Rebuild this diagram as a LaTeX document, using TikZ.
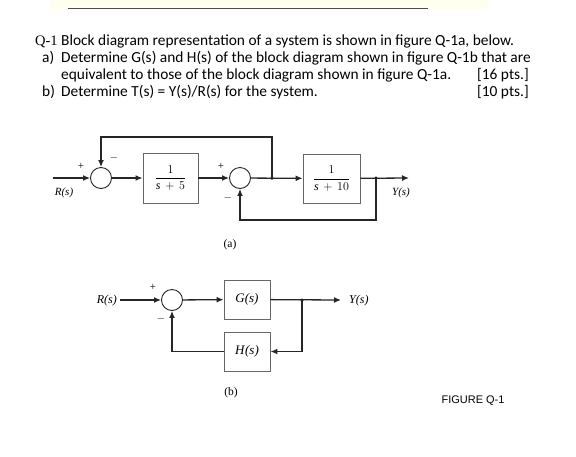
\documentclass[tikz,border=0pt]{standalone}
\usepackage{fontspec}
\setmainfont{Carlito}
\newfontfamily\tm{Liberation Serif}
\newfontfamily\ar{Liberation Sans}
\usetikzlibrary{arrows.meta}
\begin{document}
\begin{tikzpicture}[x=1pt,y=-1pt,
  wire/.style={line width=1.3pt,draw=black!85},
  arr/.style={wire,-{Latex[length=7pt,width=6pt]}},
  blk/.style={draw=black!60,line width=0.9pt,minimum width=#1,inner sep=0pt},
  sumc/.style={circle,draw=black!85,line width=0.9pt,minimum size=21pt,inner sep=0pt},
  sig/.style={font=\tm\fontsize{11}{11}\selectfont,inner sep=0pt},
  lab/.style={font=\tm\itshape\fontsize{11}{12}\selectfont,inner sep=0pt},
  labb/.style={font=\tm\itshape\fontsize{12}{13}\selectfont,inner sep=0pt},
  figcap/.style={font=\tm\fontsize{11.5}{12}\selectfont,inner sep=0pt},
  txt/.style={anchor=base west,inner sep=0pt,font=\fontsize{15.4}{17}\selectfont},
  dot/.style={circle,fill=black,inner sep=0pt,minimum size=3.5pt}]
\useasboundingbox (0,0) rectangle (576,456);
\fill[fill={rgb,255:red,255;green,255;blue,240}] (50,0) rectangle (488,9);
\draw[line width=0.5pt,black!70] (68,8) -- (428,8);
% text
\node[txt,font=\tm\fontsize{14.5}{15}\selectfont] (q1) at (35,45) {Q-1};
\node[txt] (l1) at (61,45) {Block diagram representation of a system is shown in figure Q-1a, below.};
\node[txt] (la) at (42,62) {a)};
\node[txt] (l2) at (61,62) {Determine G(s) and H(s) of the block diagram shown in figure Q-1b that are};
\node[txt] (l3) at (61,79) {equivalent to those of the block diagram shown in figure Q-1a.};
\node[txt,anchor=base east] (p16) at (529,79) {[16 pts.]};
\node[txt] (lb) at (42,96) {b)};
\node[txt] (l4) at (61,96) {Determine T(s) = Y(s)/R(s) for the system.};
\node[txt,anchor=base east] (p10) at (529,96) {[10 pts.]};
% figure a
\coordinate (rin) at (53,178);
\node[sumc] (s1) at (101,178) {};
\node[blk=55pt,minimum height=50pt] (b1) at (170.5,178) {\tm\fontsize{12}{13}\selectfont$\displaystyle\frac{1}{\textit{s}\,+\,5}$};
\node[sumc] (s2) at (240,178) {};
\node[blk=57pt,minimum height=49pt] (b2) at (331.5,178.5) {\tm\fontsize{12}{13}\selectfont$\displaystyle\frac{1}{\textit{s}\,+\,10}$};
\node[dot] (d1) at (272,178) {};
\node[dot] (d2) at (376,178) {};
\coordinate (yout) at (409,178);
\coordinate (t1) at (272,137);
\coordinate (t2) at (101,137);
\coordinate (u1) at (376,220);
\coordinate (u2) at (240,220);
\draw[arr] (rin) -- (s1);
\draw[arr] (s1) -- (b1);
\draw[arr] (b1) -- (s2);
\draw[arr] (s2) -- (b2);
\draw[arr] (b2) -- (yout);
\draw[arr] (d1.center) -- (t1) -- (t2) -- (s1);
\draw[arr] (d2.center) -- (u1) -- (u2) -- (s2);
\node[lab] (ra) at (64,193) {R(s)};
\node[lab] (ya) at (401,193) {Y(s)};
\node[sig] (pa1) at (81,166) {+};
\node[sig] (ma1) at (114,158) {$-$};
\node[sig] (pa2) at (221,166) {+};
\node[sig] (ma2) at (228,198) {$-$};
\node[figcap] (capa) at (230,245) {(a)};
% figure b
\coordinate (rinb) at (120,300);
\node[sumc] (s3) at (172,300) {};
\node[blk=46pt,minimum height=39pt] (g) at (247,299.5) {\tm\itshape\fontsize{13}{14}\selectfont G\/(s)};
\node[blk=46pt,minimum height=39pt] (h) at (247,351.5) {\tm\itshape\fontsize{13}{14}\selectfont H\/(s)};
\node[dot] (d3) at (302,300) {};
\coordinate (youtb) at (341,300);
\coordinate (f1) at (302,351.5);
\coordinate (f2) at (172,351.5);
\draw[arr] (rinb) -- (s3);
\draw[arr] (s3) -- (g);
\draw[arr] (g) -- (youtb);
\draw[arr] (d3.center) -- (f1) -- (h);
\draw[arr] (h) -- (f2) -- (s3);
\node[labb,anchor=east] (rb) at (117,301) {R(s)};
\node[labb,anchor=west] (yb) at (349,301) {Y(s)};
\node[sig] (pb1) at (153,287) {+};
\node[sig] (mb1) at (161,319) {$-$};
\node[figcap] (capb) at (231,393) {(b)};
\node[font=\ar\fontsize{11}{12}\selectfont,inner sep=0pt] (fig) at (473,401) {FIGURE Q-1};
\end{tikzpicture}
\end{document}
